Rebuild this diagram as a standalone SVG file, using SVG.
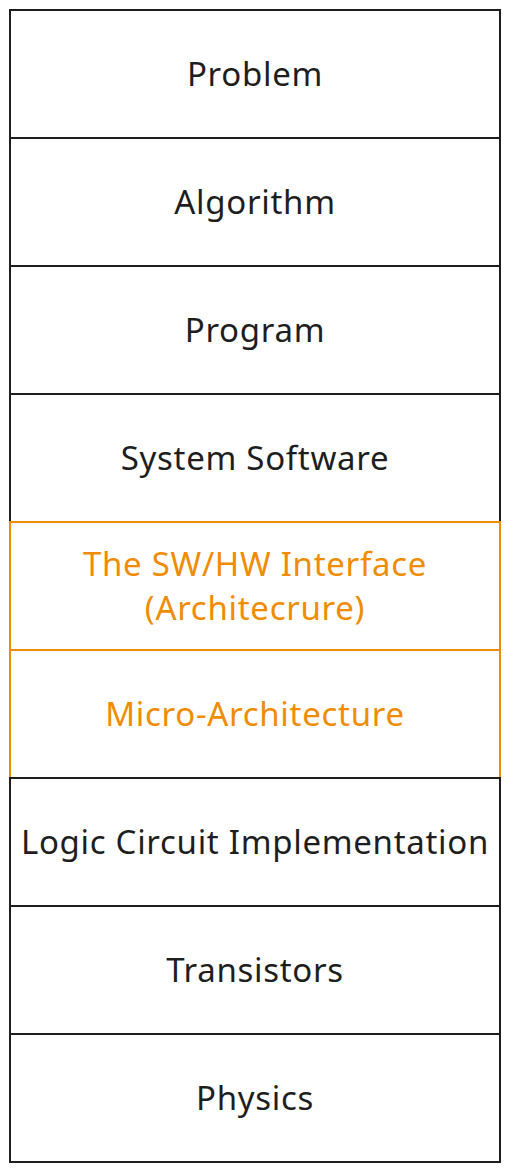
<svg xmlns="http://www.w3.org/2000/svg" width="510" height="1172" viewBox="0 0 510 1172">
<style>
.box{fill:#ffffff;stroke:#1e1e1e;stroke-width:2}
.hl{fill:#ffffff;stroke:#f08c00;stroke-width:2}
.t{font-family:"Noto Sans","Open Sans",sans-serif;font-size:33px;letter-spacing:0.7px;fill:#1e1e1e;text-anchor:middle;dominant-baseline:central}
.o{fill:#f08c00}
</style>
<rect width="510" height="1172" fill="#ffffff"/>
<g id="problem"><rect class="box" x="10" y="10" width="490" height="128"/><text class="t" x="255" y="73">Problem</text></g>
<g id="algorithm"><rect class="box" x="10" y="138" width="490" height="128"/><text class="t" x="255" y="201">Algorithm</text></g>
<g id="program"><rect class="box" x="10" y="266" width="490" height="128"/><text class="t" x="255" y="329">Program</text></g>
<g id="system-software"><rect class="box" x="10" y="394" width="490" height="128"/><text class="t" x="255" y="457">System Software</text></g>
<g id="swhw-interface"><rect class="hl" x="10" y="522" width="490" height="128"/><text class="t o" x="255" y="563">The SW/HW Interface</text><text class="t o" x="255" y="607">(Architecrure)</text></g>
<g id="micro-architecture"><rect class="hl" x="10" y="650" width="490" height="128"/><text class="t o" x="255" y="713">Micro-Architecture</text></g>
<g id="logic-circuit"><rect class="box" x="10" y="778" width="490" height="128"/><text class="t" x="255" y="841">Logic Circuit Implementation</text></g>
<g id="transistors"><rect class="box" x="10" y="906" width="490" height="128"/><text class="t" x="255" y="969">Transistors</text></g>
<g id="physics"><rect class="box" x="10" y="1034" width="490" height="128"/><text class="t" x="255" y="1097">Physics</text></g>
<g id="connectors"></g>
</svg>
